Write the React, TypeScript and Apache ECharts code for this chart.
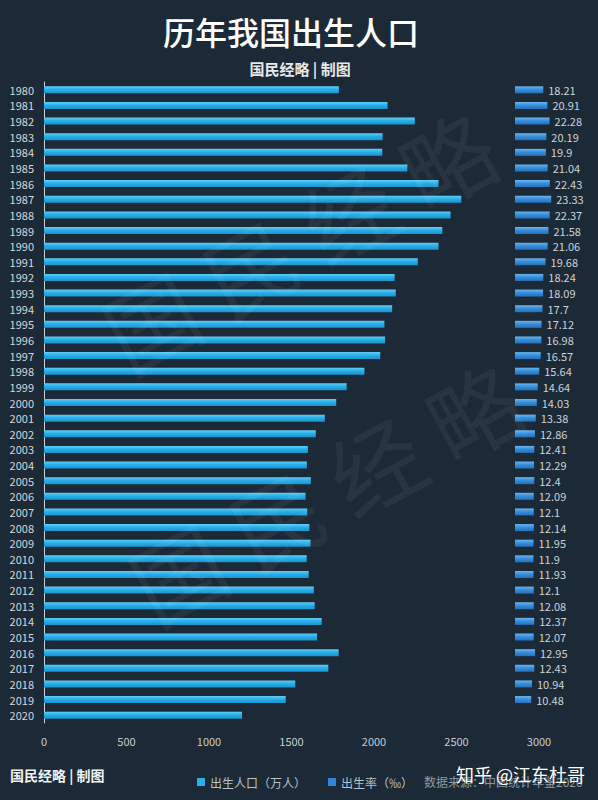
import React, { useEffect, useRef } from "react";
import * as echarts from "echarts";

const years = [
  "1980", "1981", "1982", "1983", "1984", "1985", "1986", "1987", "1988", "1989",
  "1990", "1991", "1992", "1993", "1994", "1995", "1996", "1997", "1998", "1999",
  "2000", "2001", "2002", "2003", "2004", "2005", "2006", "2007", "2008", "2009",
  "2010", "2011", "2012", "2013", "2014", "2015", "2016", "2017", "2018", "2019",
  "2020",
];

// 出生人口（万人）
const births = [
  1787, 2082, 2247, 2052, 2050, 2202, 2391, 2529, 2464, 2414,
  2391, 2265, 2125, 2132, 2110, 2063, 2067, 2038, 1942, 1834,
  1771, 1702, 1647, 1599, 1593, 1617, 1585, 1595, 1608, 1615,
  1592, 1604, 1635, 1640, 1683, 1655, 1786, 1723, 1523, 1465,
  1200,
];

// 出生率（‰）
const birthRates: (number | null)[] = [
  18.21, 20.91, 22.28, 20.19, 19.9, 21.04, 22.43, 23.33, 22.37, 21.58,
  21.06, 19.68, 18.24, 18.09, 17.7, 17.12, 16.98, 16.57, 15.64, 14.64,
  14.03, 13.38, 12.86, 12.41, 12.29, 12.4, 12.09, 12.1, 12.14, 11.95,
  11.9, 11.93, 12.1, 12.08, 12.37, 12.07, 12.95, 12.43, 10.94, 10.48,
  null,
];

const xTicks = { min: 0, max: 3000, interval: 500 };

const FONT = '"Noto Sans CJK SC", "Noto Sans", sans-serif';
const BG = "#1c2a37";

export default function App() {
  const ref = useRef<HTMLDivElement>(null);

  useEffect(() => {
    if (!ref.current) return;
    const chart = echarts.init(ref.current, undefined, { renderer: "svg" });

    const gridTop = 82;
    const gridBottom = 800 - 723;

    const leftColor = new echarts.graphic.LinearGradient(0, 0, 0, 1, [
      { offset: 0, color: "#62cdf6" },
      { offset: 0.45, color: "#28b0ea" },
      { offset: 1, color: "#1a93cc" },
    ]);
    const rightColor = new echarts.graphic.LinearGradient(0, 0, 0, 1, [
      { offset: 0, color: "#6db5ef" },
      { offset: 0.45, color: "#3690dc" },
      { offset: 1, color: "#2470bb" },
    ]);

    const watermark = (x: number, y: number) => ({
      type: "text",
      x,
      y,
      rotation: 0.5,
      z: 100,
      style: {
        text: "国 民 经 略",
        fontSize: 92,
        fontFamily: FONT,
        fontWeight: "normal",
        fill: "rgba(255,255,255,0.055)",
        align: "center",
        verticalAlign: "middle",
      },
    });

    chart.setOption({
      animation: false,
      backgroundColor: BG,
      textStyle: { fontFamily: FONT },
      legend: {
        left: 192,
        top: 771,
        itemWidth: 8,
        itemHeight: 8,
        itemGap: 22,
        icon: "rect",
        textStyle: { color: "#b8c0c8", fontSize: 12, fontFamily: FONT },
        data: [
          { name: "出生人口（万人）", itemStyle: { color: "#2aaee8" } },
          { name: "出生率（‰）", itemStyle: { color: "#2f86d4" } },
        ],
      },
      grid: [
        { left: 44, width: 495, top: gridTop, bottom: gridBottom },
        { left: 515, width: 100, top: gridTop, bottom: gridBottom },
      ],
      xAxis: [
        {
          gridIndex: 0,
          type: "value",
          min: xTicks.min,
          max: xTicks.max,
          interval: xTicks.interval,
          axisLine: { show: false },
          axisTick: { show: false },
          splitLine: { show: false },
          axisLabel: {
            color: "#c4cad0",
            fontSize: 11,
            margin: 12,
            formatter: (v: number) => String(v),
          },
        },
        {
          gridIndex: 1,
          type: "value",
          min: 0,
          max: 53.5,
          show: false,
          splitLine: { show: false },
        },
      ],
      yAxis: [
        {
          gridIndex: 0,
          type: "category",
          inverse: true,
          data: years,
          axisLine: { show: true, lineStyle: { color: "#c8d0d8", width: 1 } },
          axisTick: { show: false },
          axisLabel: { color: "#d4d8dc", fontSize: 11, margin: 10 },
        },
        {
          gridIndex: 1,
          type: "category",
          inverse: true,
          data: years,
          show: false,
        },
      ],
      series: [
        {
          name: "出生人口（万人）",
          type: "bar",
          xAxisIndex: 0,
          yAxisIndex: 0,
          barWidth: 7,
          data: births,
          itemStyle: { color: leftColor },
        },
        {
          name: "出生率（‰）",
          type: "bar",
          xAxisIndex: 1,
          yAxisIndex: 1,
          barWidth: 7,
          data: birthRates,
          itemStyle: { color: rightColor },
          label: {
            show: true,
            position: "right",
            distance: 5,
            color: "#cdd2d8",
            fontSize: 11,
            fontFamily: FONT,
          },
        },
      ],
      graphic: [
        {
          type: "text",
          x: 291,
          y: 31,
          style: {
            text: "历年我国出生人口",
            fontSize: 32,
            fontWeight: 500,
            fontFamily: FONT,
            fill: "#ffffff",
            align: "center",
            verticalAlign: "middle",
          },
        },
        {
          type: "text",
          x: 300,
          y: 68,
          style: {
            text: "国民经略 | 制图",
            fontSize: 15,
            fontWeight: "bold",
            fontFamily: FONT,
            fill: "#e6e8ea",
            align: "center",
            verticalAlign: "middle",
          },
        },
        {
          type: "text",
          x: 10,
          y: 775,
          style: {
            text: "国民经略 | 制图",
            fontSize: 14,
            fontWeight: "bold",
            fontFamily: FONT,
            fill: "#f0f2f4",
            align: "left",
            verticalAlign: "middle",
          },
        },
        {
          type: "text",
          x: 424,
          y: 781,
          style: {
            text: "数据来源：中国统计年鉴2020",
            fontSize: 12,
            fontFamily: FONT,
            fill: "#8e9aa6",
            align: "left",
            verticalAlign: "middle",
          },
        },
        {
          type: "text",
          x: 456,
          y: 774,
          z: 110,
          style: {
            text: "知乎 @江东杜哥",
            fontSize: 18,
            fontFamily: FONT,
            fill: "#ffffff",
            align: "left",
            verticalAlign: "middle",
            shadowColor: "rgba(0,0,0,0.6)",
            shadowBlur: 3,
          },
        },
        watermark(298, 238),
        watermark(325, 490),
      ],
    });

    return () => chart.dispose();
  }, []);

  return (
    <div
      ref={ref}
      style={{ position: "absolute", left: 0, top: 0, width: 598, height: 800 }}
    />
  );
}
